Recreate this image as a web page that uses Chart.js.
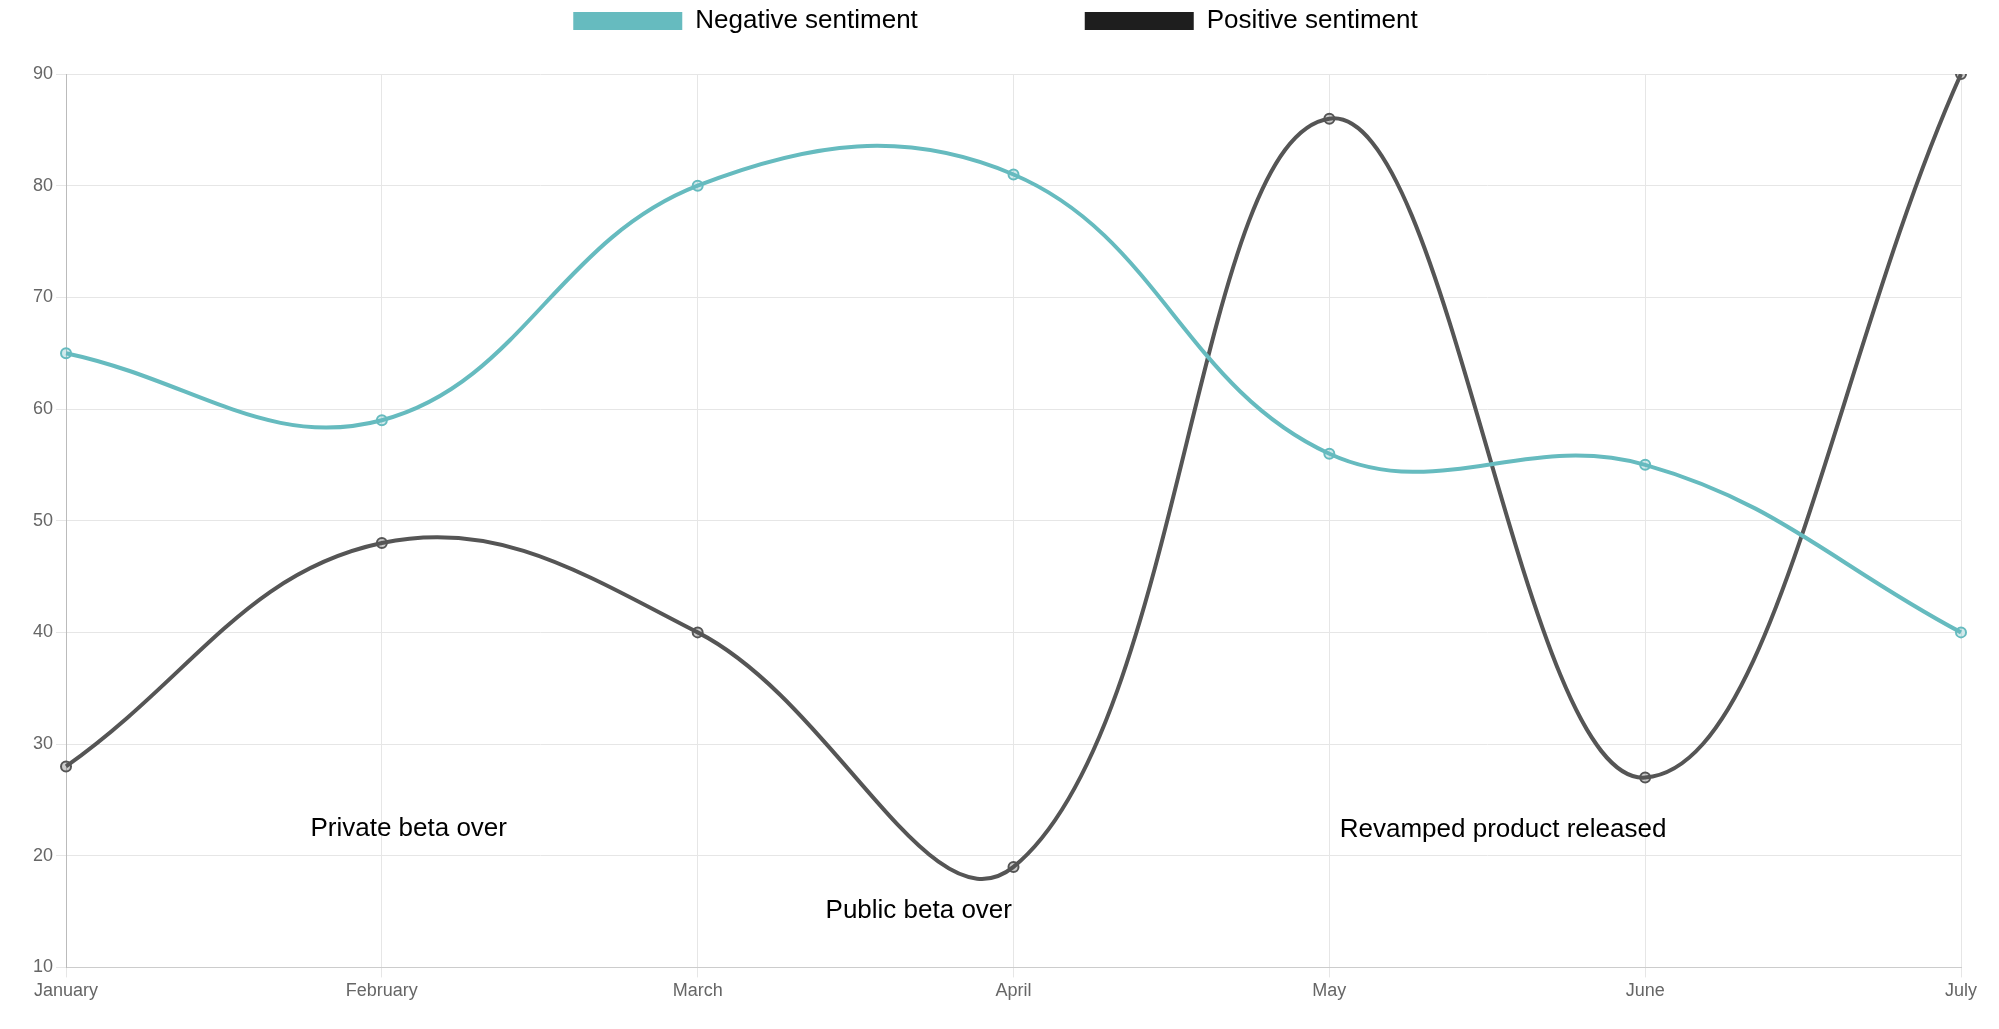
<!DOCTYPE html>
<html><head><meta charset="utf-8">
<script src="https://cdn.jsdelivr.net/npm/chart.js@4"></script>
<style>html,body{margin:0;padding:0;background:#fff}#wrap{width:1999px;height:1029px}</style>
</head><body><div id="wrap"><canvas id="c"></canvas></div>
<script>
const categories = ["January","February","March","April","May","June","July"];
const negativeValues = [65,59,80,81,56,55,40];
const positiveValues = [28,48,40,19,86,27,90];
const annotationTexts = ["Private beta over","Public beta over","Revamped product released"];
const annotationX = [1.085,2.70,4.55];
const annotationY = [22.4,15.1,22.3];

const annot = {
  id:'annot',
  afterDatasetsDraw(chart){
    const {ctx,scales:{x,y}} = chart;
    ctx.save();
    ctx.font = '26px "Liberation Sans", Arial, sans-serif';
    ctx.fillStyle = '#000';
    ctx.textAlign = 'center'; ctx.textBaseline = 'middle';
    annotationTexts.forEach((t,i)=>{
      const x0 = x.getPixelForValue(0), x1 = x.getPixelForValue(1);
      ctx.fillText(t, x0 + (x1-x0)*annotationX[i], y.getPixelForValue(annotationY[i]));
    });
    ctx.restore();
  }
};
const legendMargin = {
  id:'legendMargin',
  beforeInit(chart){
    const f = chart.legend.fit;
    chart.legend.fit = function(){ f.bind(chart.legend)(); this.height += 30; };
  }
};
const pad = '\u00a0'.repeat(22);

new Chart(document.getElementById('c'), {
  type:'line',
  data:{labels:categories, datasets:[
    {label:'Negative sentiment', data:negativeValues, borderColor:'rgb(102,187,191)', backgroundColor:'rgb(102,187,191)',
     pointBackgroundColor:'rgba(102,187,191,0.3)', pointBorderColor:'rgb(102,187,191)', borderWidth:4, pointRadius:5, pointBorderWidth:2, tension:0.4, fill:false},
    {label:'Positive sentiment', data:positiveValues, borderColor:'rgb(85,85,85)', backgroundColor:'rgb(30,30,30)',
     pointBackgroundColor:'rgba(85,85,85,0.3)', pointBorderColor:'rgb(85,85,85)', borderWidth:4, pointRadius:5, pointBorderWidth:2, tension:0.4, fill:false}
  ]},
  options:{
    responsive:true, maintainAspectRatio:false, animation:false,
    layout:{padding:{right:38,left:30,top:0,bottom:24}},
    plugins:{
      legend:{labels:{boxWidth:109, boxHeight:18, padding:8, font:{size:26, family:'"Liberation Sans", Arial, sans-serif'}, color:'#000',
        generateLabels(chart){
          return chart.data.datasets.map((d,i)=>({text:i===0? d.label+pad : d.label, fillStyle:i===0?'rgb(102,187,191)':'rgb(30,30,30)', strokeStyle:i===0?'rgb(102,187,191)':'rgb(30,30,30)', lineWidth:0, datasetIndex:i, fontColor:'#000'}));
        }}},
      tooltip:{enabled:false}
    },
    scales:{
      x:{grid:{color:'#e6e6e6', drawTicks:true, tickLength:10}, border:{color:'#ccc'}, ticks:{color:'#666', font:{size:18, family:'"Liberation Sans", Arial'}, maxRotation:0}},
      y:{min:10,max:90, grid:{color:'#e6e6e6', tickLength:10}, border:{color:'#bbb'}, ticks:{stepSize:10, color:'#666', font:{size:18, family:'"Liberation Sans", Arial'}}}
    }
  },
  plugins:[annot, legendMargin]
});
</script></body></html>
